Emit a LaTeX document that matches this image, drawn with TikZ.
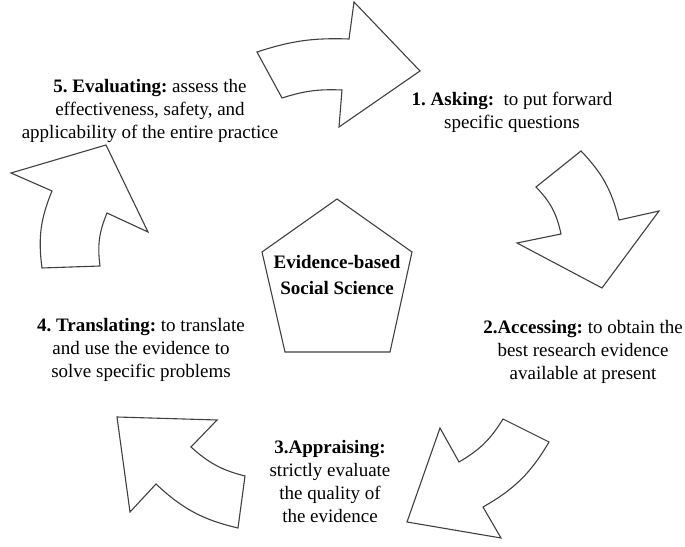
\documentclass[tikz,border=0pt]{standalone}
\usepackage{fontspec}
\setmainfont{Liberation Serif}
\frenchspacing
\begin{document}
\begin{tikzpicture}[x=1pt,y=1pt,
  arrowshape/.style={draw=black!75, line width=1.1pt, line join=miter, fill=white},
  lbl/.style={align=center, font=\fontsize{19}{23}\selectfont, inner sep=0pt},
  centrelbl/.style={align=center, font=\fontsize{19}{26}\selectfont\bfseries, inner sep=0pt}]
\useasboundingbox (0,0) rectangle (685,546);

% Arrow 1 (top)
\draw[arrowshape] (257,494) to[bend left=10] (349,507) -- (354,544) -- (420,475)
  -- (339,419) -- (342,456) to[bend right=10] (282,448) -- cycle;
% Arrow 2 (right)
\draw[arrowshape] (581,395) -- (536,359) to[bend left=16] (561,312) -- (517,303)
  -- (602,258) -- (659,335) -- (619,326) to[bend right=15] (581,395) -- cycle;
% Arrow 3 (bottom right)
\draw[arrowshape] (503,127) -- (549,104) to[bend left=15] (483,39) -- (501,8)
  -- (407,24) -- (440,118) -- (459,84) to[bend right=14] (503,127) -- cycle;
% Arrow 4 (bottom left)
\draw[arrowshape] (117,129) -- (217,126) -- (191,99) to[bend right=14] (245,70)
  -- (238,18) to[bend left=15] (156,62) -- (130,34) -- cycle;
% Arrow 5 (left)
\draw[arrowshape] (106,401) -- (148,314) -- (107,333) to[bend right=15] (100,280)
  -- (42,278) to[bend left=15] (52,355) -- (11,373) -- cycle;

% Central pentagon
\draw[arrowshape] (337,347) -- (412,294) -- (390,194) -- (285,194) -- (262,294) -- cycle;
\node[centrelbl] (centre) at (337,271) {Evidence-based\\Social Science};

\node[lbl] (asking) at (512,434) {\textbf{1. Asking:}\ \ to put forward\\specific questions};
\node[lbl] (accessing) at (583,194) {\textbf{2.Accessing:} to obtain the\\best research evidence\\available at present};
\node[lbl] (appraising) at (330,64) {\textbf{3.Appraising:}\\strictly evaluate\\the quality of\\the evidence};
\node[lbl] (translating) at (141,196) {\textbf{4. Translating:} to translate\\and use the evidence to\\solve specific problems};
\node[lbl] (evaluating) at (150,435) {\textbf{5. Evaluating:} assess the\\effectiveness, safety, and\\applicability of the entire practice};
\end{tikzpicture}
\end{document}
